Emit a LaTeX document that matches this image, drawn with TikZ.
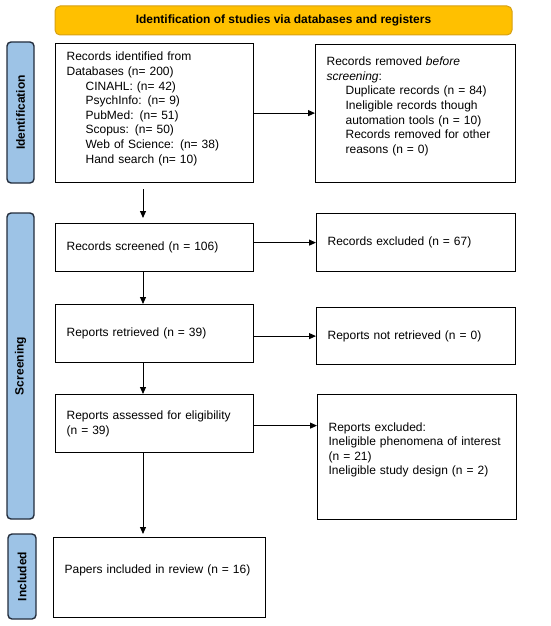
\documentclass[tikz,border=0pt]{standalone}
\usepackage{fontspec}
\setmainfont{Liberation Sans}
\usetikzlibrary{arrows.meta,positioning}

\definecolor{headfill}{RGB}{255,192,0}
\definecolor{headline}{RGB}{214,160,20}
\definecolor{barfill}{RGB}{157,195,230}
\definecolor{barline}{RGB}{35,45,60}

\tikzset{
  stage box/.style={draw, line width=1.2pt, anchor=north west, align=left,
    inner xsep=11pt, inner ysep=0pt, font=\fontsize{12}{14.6}\selectfont},
  phase bar/.style={draw=barline, fill=barfill, line width=1.4pt, rounded corners=4pt,
    rotate=90, inner sep=0pt, font=\bfseries\fontsize{12}{14}\selectfont},
  flow/.style={-{Triangle[length=7pt,width=6pt]}, line width=1pt}
}
\newcommand{\ind}{\hspace*{19pt}}
\newcommand{\lift}[1]{\rule[-#1]{0pt}{#1}}

\begin{document}
\begin{tikzpicture}[x=1pt, y=-1pt]
        \useasboundingbox (0,0) rectangle (550,626);

        \node[draw=headline, fill=headfill, line width=1pt, rounded corners=5pt,
              minimum width=457pt, minimum height=29pt, font=\bfseries\fontsize{12}{14}\selectfont]
              (head) at (283.5,20.5) {Identification of studies via databases and registers};

        \node[phase bar, minimum width=141pt, minimum height=27pt] (idbar) at (20.5,112.5) {Identification};
        \node[phase bar, minimum width=306pt, minimum height=27pt] (scbar) at (20.5,366) {Screening};
        \node[phase bar, minimum width=85pt, minimum height=28pt] (inbar) at (22,576.5) {Included};

        \node[stage box, text width=176pt, minimum height=139pt] (identified) at (55,43)
              {Records identified from\\ Databases (n= 200)\\ \ind CINAHL: (n= 42)\\ \ind PsychInfo: (n= 9)\\
               \ind PubMed: (n= 51)\\ \ind Scopus: (n= 50)\\ \ind Web of Science: (n= 38)\\ \ind Hand search (n= 10)\lift{11pt}};
        \node[stage box, text width=178pt, minimum height=138pt] (removed) at (315,44)
              {Records removed \textit{before}\\ \textit{screening}:\\ \ind Duplicate records (n = 84)\\
               \ind Ineligible records though\\ \ind automation tools (n = 10)\\
               \ind Records removed for other\\ \ind reasons (n = 0)\lift{17pt}};

        \node[stage box, text width=176pt, minimum height=48pt] (screened) at (55,223) {Records screened (n = 106)};
        \node[stage box, text width=177pt, minimum height=58pt] (excluded) at (316,213) {Records excluded (n = 67)};

        \node[stage box, text width=176pt, minimum height=58pt] (retrieved) at (55,304) {Reports retrieved (n = 39)};
        \node[stage box, text width=177pt, minimum height=57pt] (notretrieved) at (316,307) {Reports not retrieved (n = 0)};

        \node[stage box, text width=176pt, minimum height=58pt] (assessed) at (55,394)
              {Reports assessed for eligibility\\ (n = 39)};
        \node[stage box, text width=177pt, minimum height=125pt] (reportsout) at (317,394)
              {Reports excluded:\\ Ineligible phenomena of interest\\ (n = 21)\\ Ineligible study design (n = 2)\lift{17pt}};

        \node[stage box, text width=190pt, minimum height=80pt] (included) at (53,537)
              {Papers included in review (n = 16)\lift{17pt}};

        \coordinate (spine) at (143,0);
        \draw[flow, shorten <=6pt, shorten >=5pt] (spine |- identified.south) -- (spine |- screened.north);
        \draw[flow] (spine |- screened.south) -- (spine |- retrieved.north);
        \draw[flow] (spine |- retrieved.south) -- (spine |- assessed.north);
        \draw[flow, shorten >=3pt] (spine |- assessed.south) -- (spine |- included.north);

        \draw[flow] (identified.east) -- (identified.east -| removed.west);
        \draw[flow] (screened.east |- excluded.west) -- (excluded.west);
        \draw[flow] (retrieved.east |- notretrieved.west) -- (notretrieved.west);
        \draw[flow] ([yshift=-2pt]assessed.east) -- ([yshift=-2pt]assessed.east -| reportsout.west);
\end{tikzpicture}
\end{document}
